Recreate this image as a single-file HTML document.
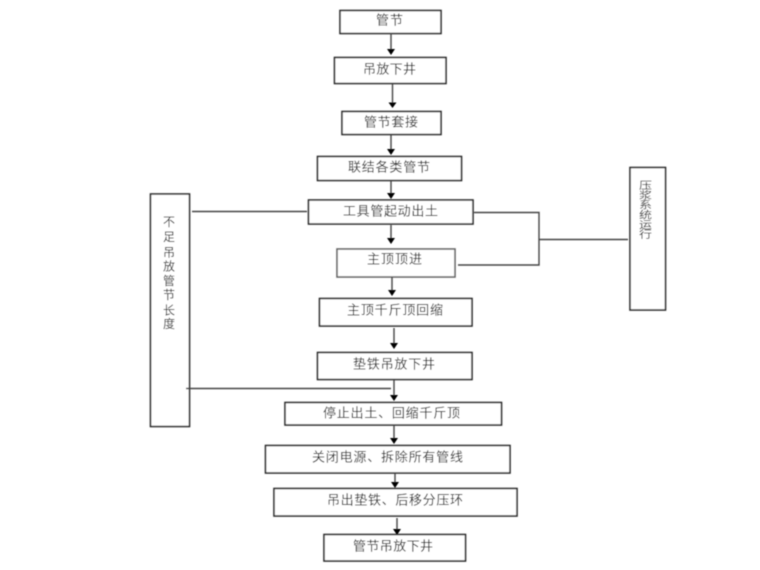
<!DOCTYPE html>
<html lang="zh"><head><meta charset="utf-8"><style>
html,body{margin:0;padding:0;background:#fff;width:760px;height:570px;overflow:hidden}
svg{display:block}
text{font-family:"Liberation Sans","Noto Sans CJK SC",sans-serif;font-size:13px;fill:#222;text-anchor:middle;dominant-baseline:central}
#g{filter:url(#b)}
.r{fill:#fff;stroke:#2a2a2a;stroke-width:1.6}
.l{stroke:#444;stroke-width:1.4;fill:none}
.a{fill:#000}
.v{font-size:12px}
</style></head><body>
<svg width="760" height="570" viewBox="0 0 760 570" xmlns="http://www.w3.org/2000/svg">
<defs><filter id="b" filterUnits="userSpaceOnUse" x="0" y="0" width="760" height="570"><feGaussianBlur stdDeviation="0.5"/></filter></defs>
<g id="g">
<rect class="r" x="340" y="10.500" width="101" height="23"/>
<rect class="r" x="334.500" y="57.500" width="111.500" height="26"/>
<rect class="r" x="342" y="111.500" width="99" height="23"/>
<rect class="r" x="317.500" y="156.500" width="144" height="24"/>
<rect class="r" x="308.500" y="200" width="164.500" height="24"/>
<rect class="r" x="337" y="249" width="118" height="28" style="stroke:#666"/>
<rect class="r" x="319.500" y="298.500" width="152.500" height="27.500"/>
<rect class="r" x="317.500" y="352.500" width="154.500" height="27"/>
<rect class="r" x="285" y="402.500" width="216.500" height="22.500"/>
<rect class="r" x="265.500" y="445.500" width="244.500" height="27.500"/>
<rect class="r" x="274" y="488.500" width="243" height="27.500"/>
<rect class="r" x="324" y="534.500" width="141.500" height="26.500"/>
<rect class="r" x="150.500" y="194" width="39" height="232.500"/>
<rect class="r" x="630" y="167.500" width="35.500" height="142.500"/>

<path class="l" d="M192 211.500H307M186 388.500H391M474 212.500H539V265H458M539 239.500H628"/>
<path class="l" d="M391 33V51M392.500 84V104M391 135V151M391 181V195M391 225V240M392 277V292M394 328V345M394 380V397M394 425V440M395 473V484M397 518V531"/>
<path class="a" d="M387 49h8L391 55zM388.500 102.500h8l-4 5.500zM387 149h8L391 155zM387 193h8L391 199zM387 238h8L391 244zM388 290h8L392 296zM390 343h8L394 349zM390 395h8L394 401zM390 438h8L394 444zM391 482h8L395 488zM393 529h8L397 535z"/>

<text x="389.500" y="20" textLength="27">管节</text>
<text x="389.500" y="69" textLength="53">吊放下井</text>
<text x="391" y="122" textLength="54">管节套接</text>
<text x="389" y="167" textLength="82">联结各类管节</text>
<text x="390.500" y="211" textLength="95">工具管起动出土</text>
<text x="394.500" y="259" textLength="55">主顶顶进</text>
<text x="395" y="310" textLength="96">主顶千斤顶回缩</text>
<text x="394" y="364" textLength="82">垫铁吊放下井</text>
<text x="391.500" y="413" textLength="137">停止出土、回缩千斤顶</text>
<text x="387.500" y="457" textLength="151">关闭电源、拆除所有管线</text>
<text x="395" y="500" textLength="136">吊出垫铁、后移分压环</text>
<text x="393" y="546" textLength="80">管节吊放下井</text>

<text class="v" x="169" y="222">不</text>
<text class="v" x="169" y="237">足</text>
<text class="v" x="169" y="252.500">吊</text>
<text class="v" x="169" y="266.500">放</text>
<text class="v" x="169" y="281">管</text>
<text class="v" x="169" y="295">节</text>
<text class="v" x="169" y="310.500">长</text>
<text class="v" x="169" y="324">度</text>

<g transform="translate(645.500 0) scale(1 .78)">
<text x="0" y="238.500">压</text>
<text x="0" y="251">浆</text>
<text x="0" y="263.500">系</text>
<text x="0" y="276">统</text>
<text x="0" y="289">运</text>
<text x="0" y="301.500">行</text>
</g>
</g>
</svg>
</body></html>
